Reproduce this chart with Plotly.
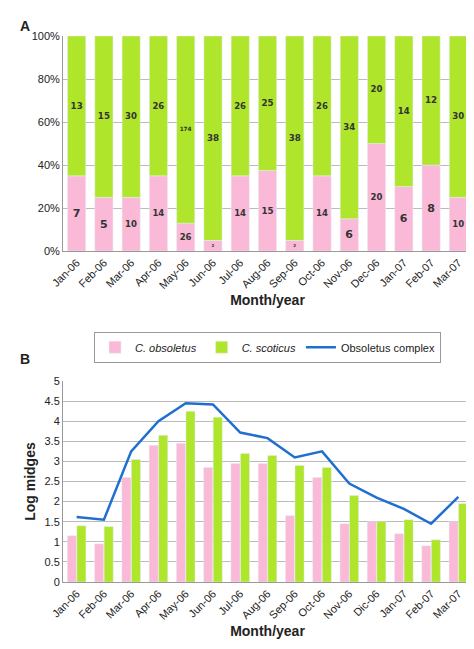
import plotly.graph_objects as go

months_a = ["Jan-06", "Feb-06", "Mar-06", "Apr-06", "May-06", "Jun-06", "Jul-06", "Aug-06",
            "Sep-06", "Oct-06", "Nov-06", "Dec-06", "Jan-07", "Feb-07", "Mar-07"]
months_b = ["Jan-06", "Feb-06", "Mar-06", "Apr-06", "May-06", "Jun-06", "Jul-06", "Aug-06",
            "Sep-06", "Oct-06", "Nov-06", "Dic-06", "Jan-07", "Feb-07", "Mar-07"]

obs_n = [7, 5, 10, 14, 26, 2, 14, 15, 2, 14, 6, 20, 6, 8, 10]
sco_n = [13, 15, 30, 26, 174, 38, 26, 25, 38, 26, 34, 20, 14, 12, 30]

obs_log = [1.15, 0.95, 2.6, 3.4, 3.45, 2.85, 2.95, 2.95, 1.65, 2.6, 1.45, 1.5, 1.2, 0.9, 1.5]
sco_log = [1.4, 1.38, 3.05, 3.65, 4.25, 4.1, 3.2, 3.15, 2.9, 2.85, 2.15, 1.5, 1.55, 1.05, 1.95]
complex_log = [1.62, 1.55, 3.25, 4.0, 4.45, 4.42, 3.72, 3.58, 3.1, 3.25, 2.45, 2.1, 1.82, 1.45, 2.12]

pink = "#f9b9d7"
green = "#afe52a"
blue = "#1f6fd1"

tot = [a + b for a, b in zip(obs_n, sco_n)]
obs_pct = [a / t * 100 for a, t in zip(obs_n, tot)]
sco_pct = [b / t * 100 for b, t in zip(sco_n, tot)]

lblfont = dict(size=11, color="#333", family="DejaVu Sans")

fig = go.Figure()
fig.add_bar(x=months_a, y=obs_pct, text=[f"<b>{v}</b>" for v in obs_n], marker_color=pink,
            textposition="inside", insidetextanchor="middle", textangle=0, textfont=lblfont,
            offsetgroup="a", xaxis="x", yaxis="y", showlegend=False)
fig.add_bar(x=months_a, y=sco_pct, base=obs_pct, text=[f"<b>{v}</b>" for v in sco_n],
            marker_color=green, textposition="inside", insidetextanchor="middle", textangle=0,
            textfont=lblfont, offsetgroup="a", xaxis="x", yaxis="y", showlegend=False)

fig.add_bar(x=months_b, y=obs_log, name="<i>C. obsoletus</i>", marker_color=pink,
            offsetgroup="o", xaxis="x2", yaxis="y2")
fig.add_bar(x=months_b, y=sco_log, name="<i>C. scoticus</i>", marker_color=green,
            offsetgroup="s", xaxis="x2", yaxis="y2")
fig.add_scatter(x=months_b, y=complex_log, name="Obsoletus complex", mode="lines",
                line=dict(color=blue, width=2.5), xaxis="x2", yaxis="y2")

axfont = dict(size=11, color="#222", family="Liberation Sans")
fig.update_layout(
    width=474, height=649, barmode="group", bargap=0.3, bargroupgap=0.05,
    plot_bgcolor="white", paper_bgcolor="white",
    margin=dict(l=55, r=10, t=28, b=75),
    font=dict(family="Liberation Sans", color="#222"),
    xaxis=dict(domain=[0, 1], anchor="y", tickangle=-45, tickfont=axfont, showline=True,
               linecolor="#999", title=dict(text="<b>Month/year</b>", font=dict(size=14), standoff=5)),
    yaxis=dict(domain=[0.606, 1], range=[0, 100], dtick=20, ticksuffix="%", tickfont=axfont,
               showgrid=True, gridcolor="#bbb", showline=True, linecolor="#999"),
    xaxis2=dict(domain=[0, 1], anchor="y2", tickangle=-45, tickfont=axfont, showline=True,
                linecolor="#999", title=dict(text="<b>Month/year</b>", font=dict(size=14), standoff=5)),
    yaxis2=dict(domain=[0, 0.368], range=[0, 5], dtick=0.5, tickfont=axfont, showgrid=True,
                gridcolor="#bbb", showline=True, linecolor="#999",
                title=dict(text="<b>Log midges</b>", font=dict(size=14), standoff=5)),
    legend=dict(orientation="h", x=0.5, xanchor="center", y=0.43, yanchor="middle",
                traceorder="normal", bordercolor="#999", borderwidth=1, font=dict(size=11)),
    annotations=[
        dict(text="<b>A</b>", x=-0.11, y=1.0, xref="paper", yref="paper", showarrow=False,
             font=dict(size=14), xanchor="left", yanchor="bottom"),
        dict(text="<b>B</b>", x=-0.11, y=0.39, xref="paper", yref="paper", showarrow=False,
             font=dict(size=14), xanchor="left", yanchor="bottom"),
    ],
)
fig.write_html("out.html")
